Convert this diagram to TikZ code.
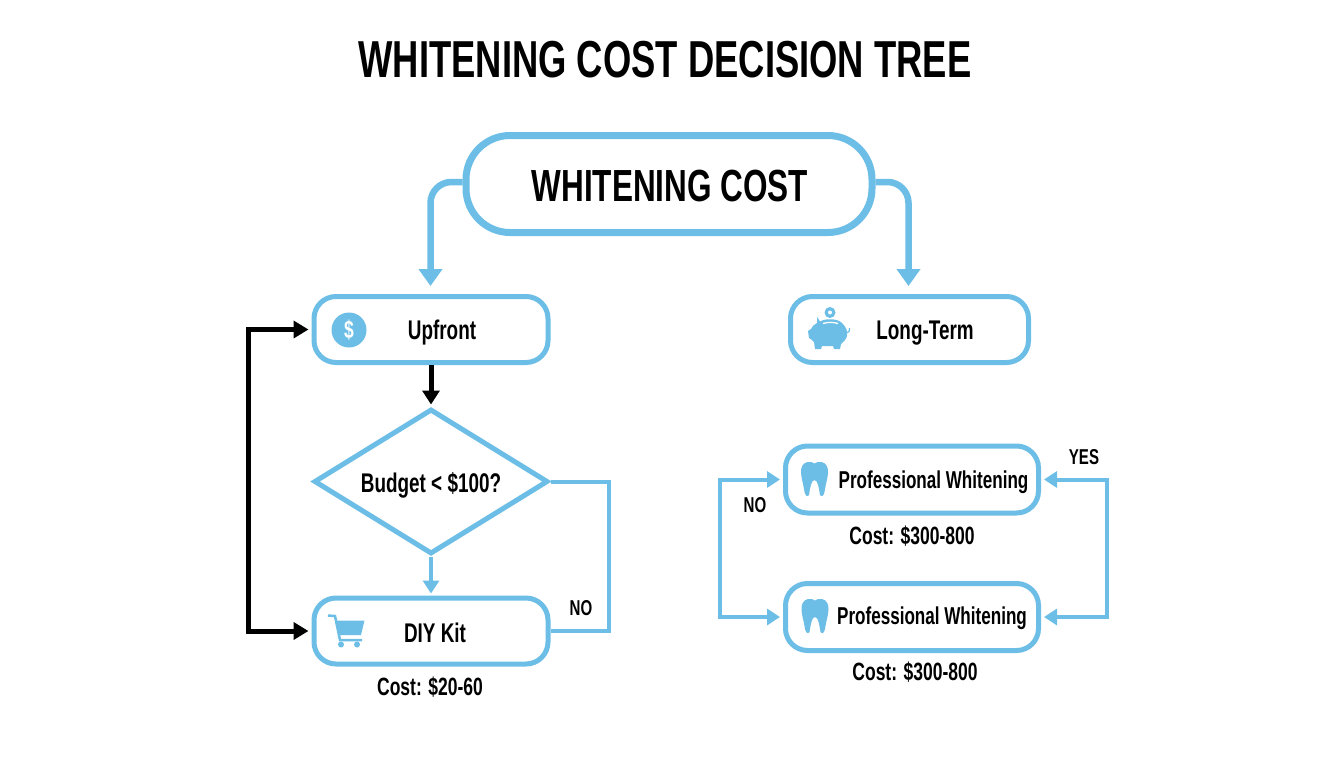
\documentclass[tikz,border=0pt]{standalone}
\usepackage{fontspec}
\usetikzlibrary{arrows.meta,shapes.geometric}
\setmainfont[FakeStretch=0.7]{Liberation Sans}
\definecolor{sky}{HTML}{6CBEE6}
\tikzset{
  box/.style={draw=sky,line width=5pt,rounded corners=22pt,fill=white,inner sep=0pt,minimum width=234pt,minimum height=66pt},
  lbl/.style={font=\fontsize{27pt}{29pt}\selectfont\bfseries,inner sep=0pt,text=black},
  prof/.style={font=\fontsize{24.4pt}{26pt}\selectfont\bfseries,inner sep=0pt,text=black},
  cost/.style={font=\fontsize{25pt}{27pt}\selectfont\bfseries,inner sep=0pt,text=black},
  small/.style={font=\fontsize{21.5pt}{24pt}\selectfont\bfseries,inner sep=0pt,text=black},
  bluearrow/.style={draw=sky,line width=4pt,-{Triangle[length=13pt,width=16pt]}},
  bigarrow/.style={draw=sky,line width=6.5pt,rounded corners=21pt,-{Triangle[length=17pt,width=23pt]}},
  blackarrow/.style={draw=black,line width=5pt},
  tooth/.pic={\fill[sky] (7,1) .. controls (10,0) and (12,1.5) .. (14,2.5) .. controls (16,1.5) and (18,0) .. (21,1) .. controls (26,2) and (28,7) .. (27.5,12) .. controls (27,18) and (25.5,22) .. (24.5,28) .. controls (24,34) and (21.5,37) .. (19.5,34) .. controls (18.5,28) and (17.5,19) .. (14,19) .. controls (10.5,19) and (9.5,28) .. (8.5,34) .. controls (6.5,37) and (4,34) .. (3.5,28) .. controls (2.5,22) and (1,18) .. (0.5,12) .. controls (0,7) and (2,2) .. (7,1) -- cycle;},
}
\begin{document}
\begin{tikzpicture}[x=1pt,y=-1pt]
\useasboundingbox (0,0) rectangle (1344,768);
\fill[white] (0,0) rectangle (1344,768);
\node[font=\fontsize{52pt}{54pt}\selectfont\bfseries,inner sep=0pt] (title) at (665,60) {WHITENING COST DECISION TREE};
\node[box,line width=7pt,rounded corners=44pt,minimum width=406pt,minimum height=97pt] (top) at (669,184) {};
\node[font=\fontsize{45pt}{48pt}\selectfont\bfseries,inner sep=0pt] (toplabel) at (670,186) {WHITENING COST};
\node[box] (up) at (431,329.5) {};
\node[box,minimum width=238pt] (lt) at (909.5,329.5) {};
\node[box] (diy) at (431,631) {};
\node[box,minimum width=253pt,minimum height=67pt] (p1) at (912,479.5) {};
\node[box,minimum width=253pt,minimum height=67pt] (p2) at (912,617) {};
\node[diamond,draw=sky,line width=5pt,fill=white,minimum width=234pt,minimum height=145pt,inner sep=0pt,aspect=1.62] (dec) at (431,481.5) {};
\node[lbl] at (442,333) {Upfront};
\node[lbl] at (925,333) {Long-Term};
\node[lbl] at (431,485) {Budget < \$100?};
\node[lbl] at (435,633) {DIY Kit};
\node[prof] at (933.5,482) {Professional Whitening};
\node[prof] at (932,618.5) {Professional Whitening};
\node[cost] at (430,687) {Cost: \$20-60};
\node[cost] at (912,536) {Cost: \$300-800};
\node[cost] at (915,672) {Cost: \$300-800};
\node[small] at (1084,457) {YES};
\node[small] at (755,505) {NO};
\node[small] at (581,608) {NO};
% connectors
\draw[bigarrow] ([yshift=2pt]top.west) -- ++(-32,0) -- ++(0,104);
\draw[bigarrow] ([yshift=2pt]top.east) -- ++(33,0) -- ++(0,104);
\draw[blackarrow,-{Triangle[length=14pt,width=17pt]},shorten >=2pt] (up.south) -- (dec.north);
\draw[bluearrow,shorten >=2pt] (dec.south) -- (diy.north);
\draw[blackarrow,{Triangle[length=15pt,width=17pt]}-{Triangle[length=15pt,width=17pt]},shorten >=3pt,shorten <=3pt] (up.west) -- ++(-63,0) |- (diy.west);
\draw[draw=sky,line width=4pt] (dec.east) -- ++(58,0) |- (diy.east);
\draw[bluearrow,{Triangle[length=13pt,width=16pt]}-{Triangle[length=13pt,width=16pt]},shorten >=3pt,shorten <=3pt] (p1.west) -- ++(-63,0) |- (p2.west);
\draw[bluearrow,{Triangle[length=13pt,width=16pt]}-{Triangle[length=13pt,width=16pt]},shorten >=3pt,shorten <=3pt] (p1.east) -- ++(66,0) |- (p2.east);
% dollar icon
\fill[sky] (349,330) circle (17.5);
\node[font=\fontsize{25pt}{26pt}\selectfont\bfseries,text=white,inner sep=0pt] at (349,330) {\$};
% cart
\begin{scope}[shift={(328,615)}]
\draw[sky,line width=2.5pt] (0,0.5) -- (7,1) -- (12,25) -- (34,25);
\fill[sky] (8.5,5.5) -- (36.5,5.5) -- (33,20) -- (11.5,20) -- cycle;
\fill[sky] (13,29.5) circle (3);
\fill[sky] (29,29.5) circle (3);
\end{scope}
% piggy
\fill[sky] (830,312.5) circle (5.5);
\fill[white] (830,312.5) circle (2);
\fill[sky] (817,317) -- (820,321.5) .. controls (825,318.5) and (837,318) .. (842,323) .. controls (846,327) and (848,331) .. (847,336) .. controls (846,340) and (843,342) .. (841,344) -- (840,349) -- (834,349) -- (833,346) -- (822,346) -- (821,349) -- (815,349) -- (814,342) .. controls (812,340) and (811,339) .. (809,338) -- (808,331) -- (811,329) .. controls (812,326) and (814,325) .. (817,323) -- cycle;
\draw[sky,line width=1.2pt] (846,333) .. controls (849,333) and (850,331) .. (849.5,328);
\draw[white,line width=1.3pt] (823,323.5) .. controls (828,322) and (833,322) .. (838,323.5);
% teeth
\pic at (800.5,461) {tooth};
\pic at (801,598) {tooth};
\end{tikzpicture}
\end{document}
